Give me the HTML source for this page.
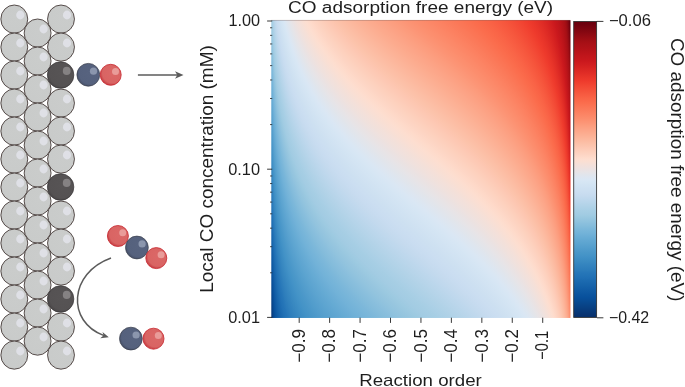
<!DOCTYPE html><html><head><meta charset="utf-8"><title>CO adsorption free energy</title>
<style>html,body{margin:0;padding:0;background:#fff}svg{display:block}text{font-family:"Liberation Sans",sans-serif;fill:#1e1e1e}</style></head><body>
<svg width="685" height="387" viewBox="0 0 685 387">
<defs>
<linearGradient id="cm" gradientUnits="userSpaceOnUse" x1="0" y1="0" x2="0" y2="901.82"><stop offset="0.0000" stop-color="#67000d"/><stop offset="0.0083" stop-color="#6d010e"/><stop offset="0.0167" stop-color="#75030f"/><stop offset="0.0250" stop-color="#7c0510"/><stop offset="0.0333" stop-color="#840711"/><stop offset="0.0417" stop-color="#8c0912"/><stop offset="0.0500" stop-color="#940b13"/><stop offset="0.0583" stop-color="#9c0d14"/><stop offset="0.0667" stop-color="#a30f15"/><stop offset="0.0750" stop-color="#a91016"/><stop offset="0.0833" stop-color="#ad1117"/><stop offset="0.0917" stop-color="#b21218"/><stop offset="0.1000" stop-color="#b71319"/><stop offset="0.1083" stop-color="#bc141a"/><stop offset="0.1167" stop-color="#c1161b"/><stop offset="0.1250" stop-color="#c5171c"/><stop offset="0.1333" stop-color="#ca181d"/><stop offset="0.1417" stop-color="#cf1c1f"/><stop offset="0.1500" stop-color="#d32020"/><stop offset="0.1583" stop-color="#d82422"/><stop offset="0.1667" stop-color="#dc2924"/><stop offset="0.1750" stop-color="#e12d26"/><stop offset="0.1833" stop-color="#e53228"/><stop offset="0.1917" stop-color="#ea362a"/><stop offset="0.2000" stop-color="#ee3a2c"/><stop offset="0.2083" stop-color="#f0402f"/><stop offset="0.2167" stop-color="#f24633"/><stop offset="0.2250" stop-color="#f34c37"/><stop offset="0.2333" stop-color="#f5523a"/><stop offset="0.2417" stop-color="#f6583e"/><stop offset="0.2500" stop-color="#f85d42"/><stop offset="0.2583" stop-color="#f96346"/><stop offset="0.2667" stop-color="#fa6849"/><stop offset="0.2750" stop-color="#fb6d4d"/><stop offset="0.2833" stop-color="#fb7252"/><stop offset="0.2917" stop-color="#fb7757"/><stop offset="0.3000" stop-color="#fb7c5c"/><stop offset="0.3083" stop-color="#fc8161"/><stop offset="0.3167" stop-color="#fc8666"/><stop offset="0.3250" stop-color="#fc8b6b"/><stop offset="0.3333" stop-color="#fc9070"/><stop offset="0.3417" stop-color="#fc9576"/><stop offset="0.3500" stop-color="#fc9b7c"/><stop offset="0.3583" stop-color="#fca082"/><stop offset="0.3667" stop-color="#fca588"/><stop offset="0.3750" stop-color="#fcaa8d"/><stop offset="0.3833" stop-color="#fcaf93"/><stop offset="0.3917" stop-color="#fcb499"/><stop offset="0.4000" stop-color="#fcb99f"/><stop offset="0.4083" stop-color="#fcbea5"/><stop offset="0.4167" stop-color="#fcc3ab"/><stop offset="0.4250" stop-color="#fdc7b2"/><stop offset="0.4333" stop-color="#fdccb8"/><stop offset="0.4417" stop-color="#fdd1be"/><stop offset="0.4500" stop-color="#fdd5c4"/><stop offset="0.4583" stop-color="#fedaca"/><stop offset="0.4667" stop-color="#fdded0"/><stop offset="0.4750" stop-color="#f9dfd4"/><stop offset="0.4833" stop-color="#f4e0d9"/><stop offset="0.4917" stop-color="#f0e1dd"/><stop offset="0.5000" stop-color="#ebe2e2"/><stop offset="0.5083" stop-color="#e7e4e7"/><stop offset="0.5167" stop-color="#e2e5eb"/><stop offset="0.5250" stop-color="#dee6f0"/><stop offset="0.5333" stop-color="#dae7f4"/><stop offset="0.5417" stop-color="#d6e6f4"/><stop offset="0.5500" stop-color="#d3e4f3"/><stop offset="0.5583" stop-color="#d0e2f2"/><stop offset="0.5667" stop-color="#cde0f1"/><stop offset="0.5750" stop-color="#cbdef1"/><stop offset="0.5833" stop-color="#c8dcf0"/><stop offset="0.5917" stop-color="#c4daee"/><stop offset="0.6000" stop-color="#bfd8ed"/><stop offset="0.6083" stop-color="#bad6eb"/><stop offset="0.6167" stop-color="#b5d4e9"/><stop offset="0.6250" stop-color="#b0d2e7"/><stop offset="0.6333" stop-color="#abd0e6"/><stop offset="0.6417" stop-color="#a6cee4"/><stop offset="0.6500" stop-color="#a3cce3"/><stop offset="0.6583" stop-color="#9dcae1"/><stop offset="0.6667" stop-color="#97c6df"/><stop offset="0.6750" stop-color="#91c3de"/><stop offset="0.6833" stop-color="#8abfdd"/><stop offset="0.6917" stop-color="#84bcdb"/><stop offset="0.7000" stop-color="#7db8da"/><stop offset="0.7083" stop-color="#77b5d9"/><stop offset="0.7167" stop-color="#72b2d8"/><stop offset="0.7250" stop-color="#6caed6"/><stop offset="0.7333" stop-color="#66abd4"/><stop offset="0.7417" stop-color="#61a7d2"/><stop offset="0.7500" stop-color="#5ca4d0"/><stop offset="0.7583" stop-color="#57a0ce"/><stop offset="0.7667" stop-color="#529dcc"/><stop offset="0.7750" stop-color="#4d99ca"/><stop offset="0.7833" stop-color="#4896c8"/><stop offset="0.7917" stop-color="#4493c7"/><stop offset="0.8000" stop-color="#3f8fc5"/><stop offset="0.8083" stop-color="#3b8bc2"/><stop offset="0.8167" stop-color="#3787c0"/><stop offset="0.8250" stop-color="#3383be"/><stop offset="0.8333" stop-color="#2f7fbc"/><stop offset="0.8417" stop-color="#2b7bba"/><stop offset="0.8500" stop-color="#2676b8"/><stop offset="0.8583" stop-color="#2373b6"/><stop offset="0.8667" stop-color="#206fb4"/><stop offset="0.8750" stop-color="#1c6bb0"/><stop offset="0.8833" stop-color="#1967ad"/><stop offset="0.8917" stop-color="#1663aa"/><stop offset="0.9000" stop-color="#135fa7"/><stop offset="0.9083" stop-color="#105ba4"/><stop offset="0.9167" stop-color="#0d57a1"/><stop offset="0.9250" stop-color="#0a539e"/><stop offset="0.9333" stop-color="#08509b"/><stop offset="0.9417" stop-color="#084c95"/><stop offset="0.9500" stop-color="#08488e"/><stop offset="0.9583" stop-color="#084488"/><stop offset="0.9667" stop-color="#084082"/><stop offset="0.9750" stop-color="#083b7c"/><stop offset="0.9833" stop-color="#083776"/><stop offset="0.9917" stop-color="#083370"/><stop offset="1.0000" stop-color="#08306b"/></linearGradient>
<linearGradient id="cb" x1="0" y1="0" x2="0" y2="1"><stop offset="0.0000" stop-color="#67000d"/><stop offset="0.0083" stop-color="#6d010e"/><stop offset="0.0167" stop-color="#75030f"/><stop offset="0.0250" stop-color="#7c0510"/><stop offset="0.0333" stop-color="#840711"/><stop offset="0.0417" stop-color="#8c0912"/><stop offset="0.0500" stop-color="#940b13"/><stop offset="0.0583" stop-color="#9c0d14"/><stop offset="0.0667" stop-color="#a30f15"/><stop offset="0.0750" stop-color="#a91016"/><stop offset="0.0833" stop-color="#ad1117"/><stop offset="0.0917" stop-color="#b21218"/><stop offset="0.1000" stop-color="#b71319"/><stop offset="0.1083" stop-color="#bc141a"/><stop offset="0.1167" stop-color="#c1161b"/><stop offset="0.1250" stop-color="#c5171c"/><stop offset="0.1333" stop-color="#ca181d"/><stop offset="0.1417" stop-color="#cf1c1f"/><stop offset="0.1500" stop-color="#d32020"/><stop offset="0.1583" stop-color="#d82422"/><stop offset="0.1667" stop-color="#dc2924"/><stop offset="0.1750" stop-color="#e12d26"/><stop offset="0.1833" stop-color="#e53228"/><stop offset="0.1917" stop-color="#ea362a"/><stop offset="0.2000" stop-color="#ee3a2c"/><stop offset="0.2083" stop-color="#f0402f"/><stop offset="0.2167" stop-color="#f24633"/><stop offset="0.2250" stop-color="#f34c37"/><stop offset="0.2333" stop-color="#f5523a"/><stop offset="0.2417" stop-color="#f6583e"/><stop offset="0.2500" stop-color="#f85d42"/><stop offset="0.2583" stop-color="#f96346"/><stop offset="0.2667" stop-color="#fa6849"/><stop offset="0.2750" stop-color="#fb6d4d"/><stop offset="0.2833" stop-color="#fb7252"/><stop offset="0.2917" stop-color="#fb7757"/><stop offset="0.3000" stop-color="#fb7c5c"/><stop offset="0.3083" stop-color="#fc8161"/><stop offset="0.3167" stop-color="#fc8666"/><stop offset="0.3250" stop-color="#fc8b6b"/><stop offset="0.3333" stop-color="#fc9070"/><stop offset="0.3417" stop-color="#fc9576"/><stop offset="0.3500" stop-color="#fc9b7c"/><stop offset="0.3583" stop-color="#fca082"/><stop offset="0.3667" stop-color="#fca588"/><stop offset="0.3750" stop-color="#fcaa8d"/><stop offset="0.3833" stop-color="#fcaf93"/><stop offset="0.3917" stop-color="#fcb499"/><stop offset="0.4000" stop-color="#fcb99f"/><stop offset="0.4083" stop-color="#fcbea5"/><stop offset="0.4167" stop-color="#fcc3ab"/><stop offset="0.4250" stop-color="#fdc7b2"/><stop offset="0.4333" stop-color="#fdccb8"/><stop offset="0.4417" stop-color="#fdd1be"/><stop offset="0.4500" stop-color="#fdd5c4"/><stop offset="0.4583" stop-color="#fedaca"/><stop offset="0.4667" stop-color="#fdded0"/><stop offset="0.4750" stop-color="#f9dfd4"/><stop offset="0.4833" stop-color="#f4e0d9"/><stop offset="0.4917" stop-color="#f0e1dd"/><stop offset="0.5000" stop-color="#ebe2e2"/><stop offset="0.5083" stop-color="#e7e4e7"/><stop offset="0.5167" stop-color="#e2e5eb"/><stop offset="0.5250" stop-color="#dee6f0"/><stop offset="0.5333" stop-color="#dae7f4"/><stop offset="0.5417" stop-color="#d6e6f4"/><stop offset="0.5500" stop-color="#d3e4f3"/><stop offset="0.5583" stop-color="#d0e2f2"/><stop offset="0.5667" stop-color="#cde0f1"/><stop offset="0.5750" stop-color="#cbdef1"/><stop offset="0.5833" stop-color="#c8dcf0"/><stop offset="0.5917" stop-color="#c4daee"/><stop offset="0.6000" stop-color="#bfd8ed"/><stop offset="0.6083" stop-color="#bad6eb"/><stop offset="0.6167" stop-color="#b5d4e9"/><stop offset="0.6250" stop-color="#b0d2e7"/><stop offset="0.6333" stop-color="#abd0e6"/><stop offset="0.6417" stop-color="#a6cee4"/><stop offset="0.6500" stop-color="#a3cce3"/><stop offset="0.6583" stop-color="#9dcae1"/><stop offset="0.6667" stop-color="#97c6df"/><stop offset="0.6750" stop-color="#91c3de"/><stop offset="0.6833" stop-color="#8abfdd"/><stop offset="0.6917" stop-color="#84bcdb"/><stop offset="0.7000" stop-color="#7db8da"/><stop offset="0.7083" stop-color="#77b5d9"/><stop offset="0.7167" stop-color="#72b2d8"/><stop offset="0.7250" stop-color="#6caed6"/><stop offset="0.7333" stop-color="#66abd4"/><stop offset="0.7417" stop-color="#61a7d2"/><stop offset="0.7500" stop-color="#5ca4d0"/><stop offset="0.7583" stop-color="#57a0ce"/><stop offset="0.7667" stop-color="#529dcc"/><stop offset="0.7750" stop-color="#4d99ca"/><stop offset="0.7833" stop-color="#4896c8"/><stop offset="0.7917" stop-color="#4493c7"/><stop offset="0.8000" stop-color="#3f8fc5"/><stop offset="0.8083" stop-color="#3b8bc2"/><stop offset="0.8167" stop-color="#3787c0"/><stop offset="0.8250" stop-color="#3383be"/><stop offset="0.8333" stop-color="#2f7fbc"/><stop offset="0.8417" stop-color="#2b7bba"/><stop offset="0.8500" stop-color="#2676b8"/><stop offset="0.8583" stop-color="#2373b6"/><stop offset="0.8667" stop-color="#206fb4"/><stop offset="0.8750" stop-color="#1c6bb0"/><stop offset="0.8833" stop-color="#1967ad"/><stop offset="0.8917" stop-color="#1663aa"/><stop offset="0.9000" stop-color="#135fa7"/><stop offset="0.9083" stop-color="#105ba4"/><stop offset="0.9167" stop-color="#0d57a1"/><stop offset="0.9250" stop-color="#0a539e"/><stop offset="0.9333" stop-color="#08509b"/><stop offset="0.9417" stop-color="#084c95"/><stop offset="0.9500" stop-color="#08488e"/><stop offset="0.9583" stop-color="#084488"/><stop offset="0.9667" stop-color="#084082"/><stop offset="0.9750" stop-color="#083b7c"/><stop offset="0.9833" stop-color="#083776"/><stop offset="0.9917" stop-color="#083370"/><stop offset="1.0000" stop-color="#08306b"/></linearGradient>
<radialGradient id="gG" cx="0.56" cy="0.44" r="0.58"><stop offset="0" stop-color="#cacccb"/><stop offset="0.85" stop-color="#c9cbca"/><stop offset="1" stop-color="#c4c6c5"/></radialGradient>
<radialGradient id="gD" cx="0.56" cy="0.44" r="0.58"><stop offset="0" stop-color="#575455"/><stop offset="0.8" stop-color="#555253"/><stop offset="1" stop-color="#4a4748"/></radialGradient>
<radialGradient id="gB" cx="0.58" cy="0.42" r="0.60"><stop offset="0" stop-color="#57637f"/><stop offset="0.8" stop-color="#55617d"/><stop offset="1" stop-color="#465069"/></radialGradient>
<radialGradient id="gR" cx="0.58" cy="0.42" r="0.60"><stop offset="0" stop-color="#db6867"/><stop offset="0.78" stop-color="#d96463"/><stop offset="1" stop-color="#c53d42"/></radialGradient>
<linearGradient id="h0" href="#cm" gradientTransform="translate(0 -569.05)"/>
<linearGradient id="h1" href="#cm" gradientTransform="translate(0 -550.55)"/>
<linearGradient id="h2" href="#cm" gradientTransform="translate(0 -536.12)"/>
<linearGradient id="h3" href="#cm" gradientTransform="translate(0 -524.26)"/>
<linearGradient id="h4" href="#cm" gradientTransform="translate(0 -514.19)"/>
<linearGradient id="h5" href="#cm" gradientTransform="translate(0 -505.43)"/>
<linearGradient id="h6" href="#cm" gradientTransform="translate(0 -497.67)"/>
<linearGradient id="h7" href="#cm" gradientTransform="translate(0 -490.70)"/>
<linearGradient id="h8" href="#cm" gradientTransform="translate(0 -484.37)"/>
<linearGradient id="h9" href="#cm" gradientTransform="translate(0 -478.57)"/>
<linearGradient id="h10" href="#cm" gradientTransform="translate(0 -473.22)"/>
<linearGradient id="h11" href="#cm" gradientTransform="translate(0 -468.24)"/>
<linearGradient id="h12" href="#cm" gradientTransform="translate(0 -463.59)"/>
<linearGradient id="h13" href="#cm" gradientTransform="translate(0 -459.23)"/>
<linearGradient id="h14" href="#cm" gradientTransform="translate(0 -455.11)"/>
<linearGradient id="h15" href="#cm" gradientTransform="translate(0 -451.22)"/>
<linearGradient id="h16" href="#cm" gradientTransform="translate(0 -447.52)"/>
<linearGradient id="h17" href="#cm" gradientTransform="translate(0 -444.00)"/>
<linearGradient id="h18" href="#cm" gradientTransform="translate(0 -440.64)"/>
<linearGradient id="h19" href="#cm" gradientTransform="translate(0 -437.43)"/>
<linearGradient id="h20" href="#cm" gradientTransform="translate(0 -434.34)"/>
<linearGradient id="h21" href="#cm" gradientTransform="translate(0 -431.38)"/>
<linearGradient id="h22" href="#cm" gradientTransform="translate(0 -428.53)"/>
<linearGradient id="h23" href="#cm" gradientTransform="translate(0 -425.78)"/>
<linearGradient id="h24" href="#cm" gradientTransform="translate(0 -423.12)"/>
<linearGradient id="h25" href="#cm" gradientTransform="translate(0 -420.55)"/>
<linearGradient id="h26" href="#cm" gradientTransform="translate(0 -418.06)"/>
<linearGradient id="h27" href="#cm" gradientTransform="translate(0 -415.65)"/>
<linearGradient id="h28" href="#cm" gradientTransform="translate(0 -413.31)"/>
<linearGradient id="h29" href="#cm" gradientTransform="translate(0 -411.03)"/>
<linearGradient id="h30" href="#cm" gradientTransform="translate(0 -408.81)"/>
<linearGradient id="h31" href="#cm" gradientTransform="translate(0 -406.66)"/>
<linearGradient id="h32" href="#cm" gradientTransform="translate(0 -404.56)"/>
<linearGradient id="h33" href="#cm" gradientTransform="translate(0 -402.51)"/>
<linearGradient id="h34" href="#cm" gradientTransform="translate(0 -400.50)"/>
<linearGradient id="h35" href="#cm" gradientTransform="translate(0 -398.55)"/>
<linearGradient id="h36" href="#cm" gradientTransform="translate(0 -396.64)"/>
<linearGradient id="h37" href="#cm" gradientTransform="translate(0 -394.77)"/>
<linearGradient id="h38" href="#cm" gradientTransform="translate(0 -392.93)"/>
<linearGradient id="h39" href="#cm" gradientTransform="translate(0 -391.14)"/>
<linearGradient id="h40" href="#cm" gradientTransform="translate(0 -389.38)"/>
<linearGradient id="h41" href="#cm" gradientTransform="translate(0 -387.66)"/>
<linearGradient id="h42" href="#cm" gradientTransform="translate(0 -385.96)"/>
<linearGradient id="h43" href="#cm" gradientTransform="translate(0 -384.30)"/>
<linearGradient id="h44" href="#cm" gradientTransform="translate(0 -382.67)"/>
<linearGradient id="h45" href="#cm" gradientTransform="translate(0 -381.07)"/>
<linearGradient id="h46" href="#cm" gradientTransform="translate(0 -379.49)"/>
<linearGradient id="h47" href="#cm" gradientTransform="translate(0 -377.94)"/>
<linearGradient id="h48" href="#cm" gradientTransform="translate(0 -376.41)"/>
<linearGradient id="h49" href="#cm" gradientTransform="translate(0 -374.91)"/>
<linearGradient id="h50" href="#cm" gradientTransform="translate(0 -373.43)"/>
<linearGradient id="h51" href="#cm" gradientTransform="translate(0 -371.97)"/>
<linearGradient id="h52" href="#cm" gradientTransform="translate(0 -370.53)"/>
<linearGradient id="h53" href="#cm" gradientTransform="translate(0 -369.11)"/>
<linearGradient id="h54" href="#cm" gradientTransform="translate(0 -367.71)"/>
<linearGradient id="h55" href="#cm" gradientTransform="translate(0 -366.33)"/>
<linearGradient id="h56" href="#cm" gradientTransform="translate(0 -364.97)"/>
<linearGradient id="h57" href="#cm" gradientTransform="translate(0 -363.63)"/>
<linearGradient id="h58" href="#cm" gradientTransform="translate(0 -362.30)"/>
<linearGradient id="h59" href="#cm" gradientTransform="translate(0 -360.99)"/>
<linearGradient id="h60" href="#cm" gradientTransform="translate(0 -359.70)"/>
<linearGradient id="h61" href="#cm" gradientTransform="translate(0 -358.42)"/>
<linearGradient id="h62" href="#cm" gradientTransform="translate(0 -357.15)"/>
<linearGradient id="h63" href="#cm" gradientTransform="translate(0 -355.90)"/>
<linearGradient id="h64" href="#cm" gradientTransform="translate(0 -354.66)"/>
<linearGradient id="h65" href="#cm" gradientTransform="translate(0 -353.44)"/>
<linearGradient id="h66" href="#cm" gradientTransform="translate(0 -352.22)"/>
<linearGradient id="h67" href="#cm" gradientTransform="translate(0 -351.02)"/>
<linearGradient id="h68" href="#cm" gradientTransform="translate(0 -349.84)"/>
<linearGradient id="h69" href="#cm" gradientTransform="translate(0 -348.66)"/>
<linearGradient id="h70" href="#cm" gradientTransform="translate(0 -347.50)"/>
<linearGradient id="h71" href="#cm" gradientTransform="translate(0 -346.34)"/>
<linearGradient id="h72" href="#cm" gradientTransform="translate(0 -345.20)"/>
<linearGradient id="h73" href="#cm" gradientTransform="translate(0 -344.07)"/>
<linearGradient id="h74" href="#cm" gradientTransform="translate(0 -342.94)"/>
<linearGradient id="h75" href="#cm" gradientTransform="translate(0 -341.83)"/>
<linearGradient id="h76" href="#cm" gradientTransform="translate(0 -340.72)"/>
<linearGradient id="h77" href="#cm" gradientTransform="translate(0 -339.63)"/>
<linearGradient id="h78" href="#cm" gradientTransform="translate(0 -338.54)"/>
<linearGradient id="h79" href="#cm" gradientTransform="translate(0 -337.46)"/>
<linearGradient id="h80" href="#cm" gradientTransform="translate(0 -336.39)"/>
<linearGradient id="h81" href="#cm" gradientTransform="translate(0 -335.33)"/>
<linearGradient id="h82" href="#cm" gradientTransform="translate(0 -334.28)"/>
<linearGradient id="h83" href="#cm" gradientTransform="translate(0 -333.23)"/>
<linearGradient id="h84" href="#cm" gradientTransform="translate(0 -332.19)"/>
<linearGradient id="h85" href="#cm" gradientTransform="translate(0 -331.16)"/>
<linearGradient id="h86" href="#cm" gradientTransform="translate(0 -330.14)"/>
<linearGradient id="h87" href="#cm" gradientTransform="translate(0 -329.12)"/>
<linearGradient id="h88" href="#cm" gradientTransform="translate(0 -328.11)"/>
<linearGradient id="h89" href="#cm" gradientTransform="translate(0 -327.10)"/>
<linearGradient id="h90" href="#cm" gradientTransform="translate(0 -326.10)"/>
<linearGradient id="h91" href="#cm" gradientTransform="translate(0 -325.11)"/>
<linearGradient id="h92" href="#cm" gradientTransform="translate(0 -324.12)"/>
<linearGradient id="h93" href="#cm" gradientTransform="translate(0 -323.14)"/>
<linearGradient id="h94" href="#cm" gradientTransform="translate(0 -322.16)"/>
<linearGradient id="h95" href="#cm" gradientTransform="translate(0 -321.19)"/>
<linearGradient id="h96" href="#cm" gradientTransform="translate(0 -320.22)"/>
<linearGradient id="h97" href="#cm" gradientTransform="translate(0 -319.26)"/>
<linearGradient id="h98" href="#cm" gradientTransform="translate(0 -318.31)"/>
<linearGradient id="h99" href="#cm" gradientTransform="translate(0 -317.36)"/>
<linearGradient id="h100" href="#cm" gradientTransform="translate(0 -316.41)"/>
<linearGradient id="h101" href="#cm" gradientTransform="translate(0 -315.47)"/>
<linearGradient id="h102" href="#cm" gradientTransform="translate(0 -314.53)"/>
<linearGradient id="h103" href="#cm" gradientTransform="translate(0 -313.60)"/>
<linearGradient id="h104" href="#cm" gradientTransform="translate(0 -312.67)"/>
<linearGradient id="h105" href="#cm" gradientTransform="translate(0 -311.74)"/>
<linearGradient id="h106" href="#cm" gradientTransform="translate(0 -310.82)"/>
<linearGradient id="h107" href="#cm" gradientTransform="translate(0 -309.90)"/>
<linearGradient id="h108" href="#cm" gradientTransform="translate(0 -308.99)"/>
<linearGradient id="h109" href="#cm" gradientTransform="translate(0 -308.08)"/>
<linearGradient id="h110" href="#cm" gradientTransform="translate(0 -307.17)"/>
<linearGradient id="h111" href="#cm" gradientTransform="translate(0 -306.27)"/>
<linearGradient id="h112" href="#cm" gradientTransform="translate(0 -305.37)"/>
<linearGradient id="h113" href="#cm" gradientTransform="translate(0 -304.47)"/>
<linearGradient id="h114" href="#cm" gradientTransform="translate(0 -303.57)"/>
<linearGradient id="h115" href="#cm" gradientTransform="translate(0 -302.68)"/>
<linearGradient id="h116" href="#cm" gradientTransform="translate(0 -301.79)"/>
<linearGradient id="h117" href="#cm" gradientTransform="translate(0 -300.90)"/>
<linearGradient id="h118" href="#cm" gradientTransform="translate(0 -300.02)"/>
<linearGradient id="h119" href="#cm" gradientTransform="translate(0 -299.14)"/>
<linearGradient id="h120" href="#cm" gradientTransform="translate(0 -298.26)"/>
<linearGradient id="h121" href="#cm" gradientTransform="translate(0 -297.38)"/>
<linearGradient id="h122" href="#cm" gradientTransform="translate(0 -296.51)"/>
<linearGradient id="h123" href="#cm" gradientTransform="translate(0 -295.64)"/>
<linearGradient id="h124" href="#cm" gradientTransform="translate(0 -294.77)"/>
<linearGradient id="h125" href="#cm" gradientTransform="translate(0 -293.90)"/>
<linearGradient id="h126" href="#cm" gradientTransform="translate(0 -293.03)"/>
<linearGradient id="h127" href="#cm" gradientTransform="translate(0 -292.16)"/>
<linearGradient id="h128" href="#cm" gradientTransform="translate(0 -291.30)"/>
<linearGradient id="h129" href="#cm" gradientTransform="translate(0 -290.44)"/>
<linearGradient id="h130" href="#cm" gradientTransform="translate(0 -289.58)"/>
<linearGradient id="h131" href="#cm" gradientTransform="translate(0 -288.72)"/>
<linearGradient id="h132" href="#cm" gradientTransform="translate(0 -287.86)"/>
<linearGradient id="h133" href="#cm" gradientTransform="translate(0 -287.01)"/>
<linearGradient id="h134" href="#cm" gradientTransform="translate(0 -286.15)"/>
<linearGradient id="h135" href="#cm" gradientTransform="translate(0 -285.30)"/>
<linearGradient id="h136" href="#cm" gradientTransform="translate(0 -284.45)"/>
<linearGradient id="h137" href="#cm" gradientTransform="translate(0 -283.59)"/>
<linearGradient id="h138" href="#cm" gradientTransform="translate(0 -282.74)"/>
<linearGradient id="h139" href="#cm" gradientTransform="translate(0 -281.89)"/>
<linearGradient id="h140" href="#cm" gradientTransform="translate(0 -281.04)"/>
<linearGradient id="h141" href="#cm" gradientTransform="translate(0 -280.20)"/>
<linearGradient id="h142" href="#cm" gradientTransform="translate(0 -279.35)"/>
<linearGradient id="h143" href="#cm" gradientTransform="translate(0 -278.50)"/>
<linearGradient id="h144" href="#cm" gradientTransform="translate(0 -277.65)"/>
<linearGradient id="h145" href="#cm" gradientTransform="translate(0 -276.81)"/>
<linearGradient id="h146" href="#cm" gradientTransform="translate(0 -275.96)"/>
<linearGradient id="h147" href="#cm" gradientTransform="translate(0 -275.12)"/>
<linearGradient id="h148" href="#cm" gradientTransform="translate(0 -274.27)"/>
<linearGradient id="h149" href="#cm" gradientTransform="translate(0 -273.42)"/>
<linearGradient id="h150" href="#cm" gradientTransform="translate(0 -272.58)"/>
<linearGradient id="h151" href="#cm" gradientTransform="translate(0 -271.73)"/>
<linearGradient id="h152" href="#cm" gradientTransform="translate(0 -270.89)"/>
<linearGradient id="h153" href="#cm" gradientTransform="translate(0 -270.04)"/>
<linearGradient id="h154" href="#cm" gradientTransform="translate(0 -269.19)"/>
<linearGradient id="h155" href="#cm" gradientTransform="translate(0 -268.35)"/>
<linearGradient id="h156" href="#cm" gradientTransform="translate(0 -267.50)"/>
<linearGradient id="h157" href="#cm" gradientTransform="translate(0 -266.65)"/>
<linearGradient id="h158" href="#cm" gradientTransform="translate(0 -265.80)"/>
<linearGradient id="h159" href="#cm" gradientTransform="translate(0 -264.95)"/>
<linearGradient id="h160" href="#cm" gradientTransform="translate(0 -264.10)"/>
<linearGradient id="h161" href="#cm" gradientTransform="translate(0 -263.25)"/>
<linearGradient id="h162" href="#cm" gradientTransform="translate(0 -262.40)"/>
<linearGradient id="h163" href="#cm" gradientTransform="translate(0 -261.55)"/>
<linearGradient id="h164" href="#cm" gradientTransform="translate(0 -260.70)"/>
<linearGradient id="h165" href="#cm" gradientTransform="translate(0 -259.84)"/>
<linearGradient id="h166" href="#cm" gradientTransform="translate(0 -258.99)"/>
<linearGradient id="h167" href="#cm" gradientTransform="translate(0 -258.13)"/>
<linearGradient id="h168" href="#cm" gradientTransform="translate(0 -257.27)"/>
<linearGradient id="h169" href="#cm" gradientTransform="translate(0 -256.41)"/>
<linearGradient id="h170" href="#cm" gradientTransform="translate(0 -255.55)"/>
<linearGradient id="h171" href="#cm" gradientTransform="translate(0 -254.69)"/>
<linearGradient id="h172" href="#cm" gradientTransform="translate(0 -253.82)"/>
<linearGradient id="h173" href="#cm" gradientTransform="translate(0 -252.96)"/>
<linearGradient id="h174" href="#cm" gradientTransform="translate(0 -252.09)"/>
<linearGradient id="h175" href="#cm" gradientTransform="translate(0 -251.22)"/>
<linearGradient id="h176" href="#cm" gradientTransform="translate(0 -250.35)"/>
<linearGradient id="h177" href="#cm" gradientTransform="translate(0 -249.47)"/>
<linearGradient id="h178" href="#cm" gradientTransform="translate(0 -248.60)"/>
<linearGradient id="h179" href="#cm" gradientTransform="translate(0 -247.72)"/>
<linearGradient id="h180" href="#cm" gradientTransform="translate(0 -246.84)"/>
<linearGradient id="h181" href="#cm" gradientTransform="translate(0 -245.95)"/>
<linearGradient id="h182" href="#cm" gradientTransform="translate(0 -245.07)"/>
<linearGradient id="h183" href="#cm" gradientTransform="translate(0 -244.18)"/>
<linearGradient id="h184" href="#cm" gradientTransform="translate(0 -243.29)"/>
<linearGradient id="h185" href="#cm" gradientTransform="translate(0 -242.39)"/>
<linearGradient id="h186" href="#cm" gradientTransform="translate(0 -241.50)"/>
<linearGradient id="h187" href="#cm" gradientTransform="translate(0 -240.60)"/>
<linearGradient id="h188" href="#cm" gradientTransform="translate(0 -239.69)"/>
<linearGradient id="h189" href="#cm" gradientTransform="translate(0 -238.79)"/>
<linearGradient id="h190" href="#cm" gradientTransform="translate(0 -237.88)"/>
<linearGradient id="h191" href="#cm" gradientTransform="translate(0 -236.97)"/>
<linearGradient id="h192" href="#cm" gradientTransform="translate(0 -236.05)"/>
<linearGradient id="h193" href="#cm" gradientTransform="translate(0 -235.13)"/>
<linearGradient id="h194" href="#cm" gradientTransform="translate(0 -234.20)"/>
<linearGradient id="h195" href="#cm" gradientTransform="translate(0 -233.28)"/>
<linearGradient id="h196" href="#cm" gradientTransform="translate(0 -232.34)"/>
<linearGradient id="h197" href="#cm" gradientTransform="translate(0 -231.41)"/>
<linearGradient id="h198" href="#cm" gradientTransform="translate(0 -230.47)"/>
<linearGradient id="h199" href="#cm" gradientTransform="translate(0 -229.52)"/>
<linearGradient id="h200" href="#cm" gradientTransform="translate(0 -228.57)"/>
<linearGradient id="h201" href="#cm" gradientTransform="translate(0 -227.62)"/>
<linearGradient id="h202" href="#cm" gradientTransform="translate(0 -226.66)"/>
<linearGradient id="h203" href="#cm" gradientTransform="translate(0 -225.69)"/>
<linearGradient id="h204" href="#cm" gradientTransform="translate(0 -224.72)"/>
<linearGradient id="h205" href="#cm" gradientTransform="translate(0 -223.75)"/>
<linearGradient id="h206" href="#cm" gradientTransform="translate(0 -222.77)"/>
<linearGradient id="h207" href="#cm" gradientTransform="translate(0 -221.78)"/>
<linearGradient id="h208" href="#cm" gradientTransform="translate(0 -220.79)"/>
<linearGradient id="h209" href="#cm" gradientTransform="translate(0 -219.79)"/>
<linearGradient id="h210" href="#cm" gradientTransform="translate(0 -218.79)"/>
<linearGradient id="h211" href="#cm" gradientTransform="translate(0 -217.78)"/>
<linearGradient id="h212" href="#cm" gradientTransform="translate(0 -216.76)"/>
<linearGradient id="h213" href="#cm" gradientTransform="translate(0 -215.74)"/>
<linearGradient id="h214" href="#cm" gradientTransform="translate(0 -214.71)"/>
<linearGradient id="h215" href="#cm" gradientTransform="translate(0 -213.67)"/>
<linearGradient id="h216" href="#cm" gradientTransform="translate(0 -212.63)"/>
<linearGradient id="h217" href="#cm" gradientTransform="translate(0 -211.58)"/>
<linearGradient id="h218" href="#cm" gradientTransform="translate(0 -210.52)"/>
<linearGradient id="h219" href="#cm" gradientTransform="translate(0 -209.45)"/>
<linearGradient id="h220" href="#cm" gradientTransform="translate(0 -208.38)"/>
<linearGradient id="h221" href="#cm" gradientTransform="translate(0 -207.29)"/>
<linearGradient id="h222" href="#cm" gradientTransform="translate(0 -206.20)"/>
<linearGradient id="h223" href="#cm" gradientTransform="translate(0 -205.10)"/>
<linearGradient id="h224" href="#cm" gradientTransform="translate(0 -203.99)"/>
<linearGradient id="h225" href="#cm" gradientTransform="translate(0 -202.87)"/>
<linearGradient id="h226" href="#cm" gradientTransform="translate(0 -201.74)"/>
<linearGradient id="h227" href="#cm" gradientTransform="translate(0 -200.59)"/>
<linearGradient id="h228" href="#cm" gradientTransform="translate(0 -199.44)"/>
<linearGradient id="h229" href="#cm" gradientTransform="translate(0 -198.28)"/>
<linearGradient id="h230" href="#cm" gradientTransform="translate(0 -197.11)"/>
<linearGradient id="h231" href="#cm" gradientTransform="translate(0 -195.93)"/>
<linearGradient id="h232" href="#cm" gradientTransform="translate(0 -194.73)"/>
<linearGradient id="h233" href="#cm" gradientTransform="translate(0 -193.52)"/>
<linearGradient id="h234" href="#cm" gradientTransform="translate(0 -192.30)"/>
<linearGradient id="h235" href="#cm" gradientTransform="translate(0 -191.07)"/>
<linearGradient id="h236" href="#cm" gradientTransform="translate(0 -189.82)"/>
<linearGradient id="h237" href="#cm" gradientTransform="translate(0 -188.56)"/>
<linearGradient id="h238" href="#cm" gradientTransform="translate(0 -187.28)"/>
<linearGradient id="h239" href="#cm" gradientTransform="translate(0 -185.99)"/>
<linearGradient id="h240" href="#cm" gradientTransform="translate(0 -184.69)"/>
<linearGradient id="h241" href="#cm" gradientTransform="translate(0 -183.36)"/>
<linearGradient id="h242" href="#cm" gradientTransform="translate(0 -182.02)"/>
<linearGradient id="h243" href="#cm" gradientTransform="translate(0 -180.67)"/>
<linearGradient id="h244" href="#cm" gradientTransform="translate(0 -179.30)"/>
<linearGradient id="h245" href="#cm" gradientTransform="translate(0 -177.90)"/>
<linearGradient id="h246" href="#cm" gradientTransform="translate(0 -176.49)"/>
<linearGradient id="h247" href="#cm" gradientTransform="translate(0 -175.06)"/>
<linearGradient id="h248" href="#cm" gradientTransform="translate(0 -173.61)"/>
<linearGradient id="h249" href="#cm" gradientTransform="translate(0 -172.13)"/>
<linearGradient id="h250" href="#cm" gradientTransform="translate(0 -170.64)"/>
<linearGradient id="h251" href="#cm" gradientTransform="translate(0 -169.12)"/>
<linearGradient id="h252" href="#cm" gradientTransform="translate(0 -167.57)"/>
<linearGradient id="h253" href="#cm" gradientTransform="translate(0 -166.00)"/>
<linearGradient id="h254" href="#cm" gradientTransform="translate(0 -164.41)"/>
<linearGradient id="h255" href="#cm" gradientTransform="translate(0 -162.78)"/>
<linearGradient id="h256" href="#cm" gradientTransform="translate(0 -161.13)"/>
<linearGradient id="h257" href="#cm" gradientTransform="translate(0 -159.45)"/>
<linearGradient id="h258" href="#cm" gradientTransform="translate(0 -157.73)"/>
<linearGradient id="h259" href="#cm" gradientTransform="translate(0 -155.98)"/>
<linearGradient id="h260" href="#cm" gradientTransform="translate(0 -154.20)"/>
<linearGradient id="h261" href="#cm" gradientTransform="translate(0 -152.38)"/>
<linearGradient id="h262" href="#cm" gradientTransform="translate(0 -150.52)"/>
<linearGradient id="h263" href="#cm" gradientTransform="translate(0 -148.62)"/>
<linearGradient id="h264" href="#cm" gradientTransform="translate(0 -146.68)"/>
<linearGradient id="h265" href="#cm" gradientTransform="translate(0 -144.69)"/>
<linearGradient id="h266" href="#cm" gradientTransform="translate(0 -142.66)"/>
<linearGradient id="h267" href="#cm" gradientTransform="translate(0 -140.57)"/>
<linearGradient id="h268" href="#cm" gradientTransform="translate(0 -138.43)"/>
<linearGradient id="h269" href="#cm" gradientTransform="translate(0 -136.23)"/>
<linearGradient id="h270" href="#cm" gradientTransform="translate(0 -133.98)"/>
<linearGradient id="h271" href="#cm" gradientTransform="translate(0 -131.65)"/>
<linearGradient id="h272" href="#cm" gradientTransform="translate(0 -129.26)"/>
<linearGradient id="h273" href="#cm" gradientTransform="translate(0 -126.80)"/>
<linearGradient id="h274" href="#cm" gradientTransform="translate(0 -124.25)"/>
<linearGradient id="h275" href="#cm" gradientTransform="translate(0 -121.62)"/>
<linearGradient id="h276" href="#cm" gradientTransform="translate(0 -118.90)"/>
<linearGradient id="h277" href="#cm" gradientTransform="translate(0 -116.08)"/>
<linearGradient id="h278" href="#cm" gradientTransform="translate(0 -113.15)"/>
<linearGradient id="h279" href="#cm" gradientTransform="translate(0 -110.10)"/>
<linearGradient id="h280" href="#cm" gradientTransform="translate(0 -106.93)"/>
<linearGradient id="h281" href="#cm" gradientTransform="translate(0 -103.61)"/>
<linearGradient id="h282" href="#cm" gradientTransform="translate(0 -100.14)"/>
<linearGradient id="h283" href="#cm" gradientTransform="translate(0 -96.50)"/>
<linearGradient id="h284" href="#cm" gradientTransform="translate(0 -92.67)"/>
<linearGradient id="h285" href="#cm" gradientTransform="translate(0 -88.62)"/>
<linearGradient id="h286" href="#cm" gradientTransform="translate(0 -84.34)"/>
<linearGradient id="h287" href="#cm" gradientTransform="translate(0 -79.78)"/>
<linearGradient id="h288" href="#cm" gradientTransform="translate(0 -74.90)"/>
<linearGradient id="h289" href="#cm" gradientTransform="translate(0 -69.67)"/>
<linearGradient id="h290" href="#cm" gradientTransform="translate(0 -64.01)"/>
<linearGradient id="h291" href="#cm" gradientTransform="translate(0 -57.85)"/>
<linearGradient id="h292" href="#cm" gradientTransform="translate(0 -51.09)"/>
<linearGradient id="h293" href="#cm" gradientTransform="translate(0 -43.59)"/>
<linearGradient id="h294" href="#cm" gradientTransform="translate(0 -35.15)"/>
<linearGradient id="h295" href="#cm" gradientTransform="translate(0 -25.52)"/>
<linearGradient id="h296" href="#cm" gradientTransform="translate(0 -14.26)"/>
<linearGradient id="h297" href="#cm" gradientTransform="translate(0 -0.71)"/>
<linearGradient id="h298" href="#cm" gradientTransform="translate(0 16.34)"/>
</defs>
<g id="slab">
<ellipse cx="14.3" cy="19.1" rx="13.45" ry="14.10" fill="url(#gG)" stroke="#332724" stroke-width="0.80"/><ellipse cx="20.3" cy="15.0" rx="4.10" ry="4.40" fill="#dfe0e6"/>
<ellipse cx="14.3" cy="47.1" rx="13.45" ry="14.10" fill="url(#gG)" stroke="#332724" stroke-width="0.80"/><ellipse cx="20.3" cy="43.0" rx="4.10" ry="4.40" fill="#dfe0e6"/>
<ellipse cx="14.3" cy="75.1" rx="13.45" ry="14.10" fill="url(#gG)" stroke="#332724" stroke-width="0.80"/><ellipse cx="20.3" cy="71.0" rx="4.10" ry="4.40" fill="#dfe0e6"/>
<ellipse cx="14.3" cy="103.1" rx="13.45" ry="14.10" fill="url(#gG)" stroke="#332724" stroke-width="0.80"/><ellipse cx="20.3" cy="99.0" rx="4.10" ry="4.40" fill="#dfe0e6"/>
<ellipse cx="14.3" cy="131.1" rx="13.45" ry="14.10" fill="url(#gG)" stroke="#332724" stroke-width="0.80"/><ellipse cx="20.3" cy="127.0" rx="4.10" ry="4.40" fill="#dfe0e6"/>
<ellipse cx="14.3" cy="159.1" rx="13.45" ry="14.10" fill="url(#gG)" stroke="#332724" stroke-width="0.80"/><ellipse cx="20.3" cy="155.0" rx="4.10" ry="4.40" fill="#dfe0e6"/>
<ellipse cx="14.3" cy="187.1" rx="13.45" ry="14.10" fill="url(#gG)" stroke="#332724" stroke-width="0.80"/><ellipse cx="20.3" cy="183.0" rx="4.10" ry="4.40" fill="#dfe0e6"/>
<ellipse cx="14.3" cy="215.1" rx="13.45" ry="14.10" fill="url(#gG)" stroke="#332724" stroke-width="0.80"/><ellipse cx="20.3" cy="211.0" rx="4.10" ry="4.40" fill="#dfe0e6"/>
<ellipse cx="14.3" cy="243.1" rx="13.45" ry="14.10" fill="url(#gG)" stroke="#332724" stroke-width="0.80"/><ellipse cx="20.3" cy="239.0" rx="4.10" ry="4.40" fill="#dfe0e6"/>
<ellipse cx="14.3" cy="271.1" rx="13.45" ry="14.10" fill="url(#gG)" stroke="#332724" stroke-width="0.80"/><ellipse cx="20.3" cy="267.0" rx="4.10" ry="4.40" fill="#dfe0e6"/>
<ellipse cx="14.3" cy="299.1" rx="13.45" ry="14.10" fill="url(#gG)" stroke="#332724" stroke-width="0.80"/><ellipse cx="20.3" cy="295.0" rx="4.10" ry="4.40" fill="#dfe0e6"/>
<ellipse cx="14.3" cy="327.1" rx="13.45" ry="14.10" fill="url(#gG)" stroke="#332724" stroke-width="0.80"/><ellipse cx="20.3" cy="323.0" rx="4.10" ry="4.40" fill="#dfe0e6"/>
<ellipse cx="14.3" cy="355.1" rx="13.45" ry="14.10" fill="url(#gG)" stroke="#332724" stroke-width="0.80"/><ellipse cx="20.3" cy="351.0" rx="4.10" ry="4.40" fill="#dfe0e6"/>
<ellipse cx="61.0" cy="19.1" rx="13.45" ry="14.10" fill="url(#gG)" stroke="#332724" stroke-width="0.80"/><ellipse cx="67.0" cy="15.0" rx="4.10" ry="4.40" fill="#dfe0e6"/>
<ellipse cx="61.0" cy="47.1" rx="13.45" ry="14.10" fill="url(#gG)" stroke="#332724" stroke-width="0.80"/><ellipse cx="67.0" cy="43.0" rx="4.10" ry="4.40" fill="#dfe0e6"/>
<ellipse cx="61.0" cy="103.1" rx="13.45" ry="14.10" fill="url(#gG)" stroke="#332724" stroke-width="0.80"/><ellipse cx="67.0" cy="99.0" rx="4.10" ry="4.40" fill="#dfe0e6"/>
<ellipse cx="61.0" cy="131.1" rx="13.45" ry="14.10" fill="url(#gG)" stroke="#332724" stroke-width="0.80"/><ellipse cx="67.0" cy="127.0" rx="4.10" ry="4.40" fill="#dfe0e6"/>
<ellipse cx="61.0" cy="159.1" rx="13.45" ry="14.10" fill="url(#gG)" stroke="#332724" stroke-width="0.80"/><ellipse cx="67.0" cy="155.0" rx="4.10" ry="4.40" fill="#dfe0e6"/>
<ellipse cx="61.0" cy="215.1" rx="13.45" ry="14.10" fill="url(#gG)" stroke="#332724" stroke-width="0.80"/><ellipse cx="67.0" cy="211.0" rx="4.10" ry="4.40" fill="#dfe0e6"/>
<ellipse cx="61.0" cy="243.1" rx="13.45" ry="14.10" fill="url(#gG)" stroke="#332724" stroke-width="0.80"/><ellipse cx="67.0" cy="239.0" rx="4.10" ry="4.40" fill="#dfe0e6"/>
<ellipse cx="61.0" cy="271.1" rx="13.45" ry="14.10" fill="url(#gG)" stroke="#332724" stroke-width="0.80"/><ellipse cx="67.0" cy="267.0" rx="4.10" ry="4.40" fill="#dfe0e6"/>
<ellipse cx="61.0" cy="327.1" rx="13.45" ry="14.10" fill="url(#gG)" stroke="#332724" stroke-width="0.80"/><ellipse cx="67.0" cy="323.0" rx="4.10" ry="4.40" fill="#dfe0e6"/>
<ellipse cx="61.0" cy="355.1" rx="13.45" ry="14.10" fill="url(#gG)" stroke="#332724" stroke-width="0.80"/><ellipse cx="67.0" cy="351.0" rx="4.10" ry="4.40" fill="#dfe0e6"/>
<ellipse cx="37.6" cy="33.1" rx="13.45" ry="14.10" fill="url(#gG)" stroke="#332724" stroke-width="0.80"/><ellipse cx="43.6" cy="29.0" rx="4.10" ry="4.40" fill="#dfe0e6"/>
<ellipse cx="37.6" cy="61.1" rx="13.45" ry="14.10" fill="url(#gG)" stroke="#332724" stroke-width="0.80"/><ellipse cx="43.6" cy="57.0" rx="4.10" ry="4.40" fill="#dfe0e6"/>
<ellipse cx="37.6" cy="89.1" rx="13.45" ry="14.10" fill="url(#gG)" stroke="#332724" stroke-width="0.80"/><ellipse cx="43.6" cy="85.0" rx="4.10" ry="4.40" fill="#dfe0e6"/>
<ellipse cx="37.6" cy="117.1" rx="13.45" ry="14.10" fill="url(#gG)" stroke="#332724" stroke-width="0.80"/><ellipse cx="43.6" cy="113.0" rx="4.10" ry="4.40" fill="#dfe0e6"/>
<ellipse cx="37.6" cy="145.1" rx="13.45" ry="14.10" fill="url(#gG)" stroke="#332724" stroke-width="0.80"/><ellipse cx="43.6" cy="141.0" rx="4.10" ry="4.40" fill="#dfe0e6"/>
<ellipse cx="37.6" cy="173.1" rx="13.45" ry="14.10" fill="url(#gG)" stroke="#332724" stroke-width="0.80"/><ellipse cx="43.6" cy="169.0" rx="4.10" ry="4.40" fill="#dfe0e6"/>
<ellipse cx="37.6" cy="201.1" rx="13.45" ry="14.10" fill="url(#gG)" stroke="#332724" stroke-width="0.80"/><ellipse cx="43.6" cy="197.0" rx="4.10" ry="4.40" fill="#dfe0e6"/>
<ellipse cx="37.6" cy="229.1" rx="13.45" ry="14.10" fill="url(#gG)" stroke="#332724" stroke-width="0.80"/><ellipse cx="43.6" cy="225.0" rx="4.10" ry="4.40" fill="#dfe0e6"/>
<ellipse cx="37.6" cy="257.1" rx="13.45" ry="14.10" fill="url(#gG)" stroke="#332724" stroke-width="0.80"/><ellipse cx="43.6" cy="253.0" rx="4.10" ry="4.40" fill="#dfe0e6"/>
<ellipse cx="37.6" cy="285.1" rx="13.45" ry="14.10" fill="url(#gG)" stroke="#332724" stroke-width="0.80"/><ellipse cx="43.6" cy="281.0" rx="4.10" ry="4.40" fill="#dfe0e6"/>
<ellipse cx="37.6" cy="313.1" rx="13.45" ry="14.10" fill="url(#gG)" stroke="#332724" stroke-width="0.80"/><ellipse cx="43.6" cy="309.0" rx="4.10" ry="4.40" fill="#dfe0e6"/>
<ellipse cx="37.6" cy="341.1" rx="13.45" ry="14.10" fill="url(#gG)" stroke="#332724" stroke-width="0.80"/><ellipse cx="43.6" cy="337.0" rx="4.10" ry="4.40" fill="#dfe0e6"/>
<ellipse cx="60.6" cy="75.0" rx="13.25" ry="13.30" fill="url(#gD)" stroke="#3a3738" stroke-width="0.70"/><ellipse cx="66.7" cy="70.9" rx="3.90" ry="4.10" fill="#858283"/>
<ellipse cx="60.6" cy="187.0" rx="13.25" ry="13.30" fill="url(#gD)" stroke="#3a3738" stroke-width="0.70"/><ellipse cx="66.7" cy="182.9" rx="3.90" ry="4.10" fill="#858283"/>
<ellipse cx="60.6" cy="299.0" rx="13.25" ry="13.30" fill="url(#gD)" stroke="#3a3738" stroke-width="0.70"/><ellipse cx="66.7" cy="294.9" rx="3.90" ry="4.10" fill="#858283"/>
</g>
<g id="mol">
<ellipse cx="88.3" cy="74.8" rx="11.40" ry="11.40" fill="url(#gB)" stroke="#3b3f4c" stroke-width="0.70"/><ellipse cx="93.5" cy="71.2" rx="3.60" ry="3.60" fill="#8b96ad"/>
<ellipse cx="110.7" cy="74.8" rx="10.50" ry="10.50" fill="url(#gR)" stroke="#c92d34" stroke-width="0.85"/><ellipse cx="115.5" cy="71.5" rx="3.50" ry="3.50" fill="#e99c99"/>
<ellipse cx="117.9" cy="236.0" rx="10.50" ry="10.50" fill="url(#gR)" stroke="#c92d34" stroke-width="0.85"/><ellipse cx="122.7" cy="232.7" rx="3.50" ry="3.50" fill="#e99c99"/>
<ellipse cx="136.9" cy="247.5" rx="11.40" ry="11.40" fill="url(#gB)" stroke="#3b3f4c" stroke-width="0.70"/><ellipse cx="142.1" cy="243.9" rx="3.60" ry="3.60" fill="#8b96ad"/>
<ellipse cx="156.3" cy="258.1" rx="10.50" ry="10.50" fill="url(#gR)" stroke="#c92d34" stroke-width="0.85"/><ellipse cx="161.1" cy="254.8" rx="3.50" ry="3.50" fill="#e99c99"/>
<ellipse cx="130.9" cy="338.6" rx="11.40" ry="11.40" fill="url(#gB)" stroke="#3b3f4c" stroke-width="0.70"/><ellipse cx="136.1" cy="335.0" rx="3.60" ry="3.60" fill="#8b96ad"/>
<ellipse cx="153.5" cy="338.7" rx="10.50" ry="10.50" fill="url(#gR)" stroke="#c92d34" stroke-width="0.85"/><ellipse cx="158.3" cy="335.4" rx="3.50" ry="3.50" fill="#e99c99"/>
</g>
<g id="arrows" fill="none" stroke="#5b5b5b" stroke-width="1.5">
<line x1="137.9" y1="75.05" x2="178" y2="75.05"/>
<path d="M111 258 C 69 273.1, 66.2 321.7, 104 335.6"/>
</g>
<path d="M183.5 75.05 L175 71.3 L177.3 75.05 L175 78.8 Z" fill="#5b5b5b"/>
<path d="M108.8 337.3 L100.2 338.2 L103.6 335.4 L102.5 331.9 Z" fill="#5b5b5b"/>
<g id="heat">
<rect x="271.30" y="20.30" width="2.00" height="297.60" fill="url(#h0)"/>
<rect x="272.30" y="20.30" width="2.00" height="297.60" fill="url(#h1)"/>
<rect x="273.30" y="20.30" width="2.00" height="297.60" fill="url(#h2)"/>
<rect x="274.30" y="20.30" width="2.00" height="297.60" fill="url(#h3)"/>
<rect x="275.30" y="20.30" width="2.00" height="297.60" fill="url(#h4)"/>
<rect x="276.30" y="20.30" width="2.00" height="297.60" fill="url(#h5)"/>
<rect x="277.30" y="20.30" width="2.00" height="297.60" fill="url(#h6)"/>
<rect x="278.30" y="20.30" width="2.00" height="297.60" fill="url(#h7)"/>
<rect x="279.30" y="20.30" width="2.00" height="297.60" fill="url(#h8)"/>
<rect x="280.30" y="20.30" width="2.00" height="297.60" fill="url(#h9)"/>
<rect x="281.30" y="20.30" width="2.00" height="297.60" fill="url(#h10)"/>
<rect x="282.30" y="20.30" width="2.00" height="297.60" fill="url(#h11)"/>
<rect x="283.30" y="20.30" width="2.00" height="297.60" fill="url(#h12)"/>
<rect x="284.30" y="20.30" width="2.00" height="297.60" fill="url(#h13)"/>
<rect x="285.30" y="20.30" width="2.00" height="297.60" fill="url(#h14)"/>
<rect x="286.30" y="20.30" width="2.00" height="297.60" fill="url(#h15)"/>
<rect x="287.30" y="20.30" width="2.00" height="297.60" fill="url(#h16)"/>
<rect x="288.30" y="20.30" width="2.00" height="297.60" fill="url(#h17)"/>
<rect x="289.30" y="20.30" width="2.00" height="297.60" fill="url(#h18)"/>
<rect x="290.30" y="20.30" width="2.00" height="297.60" fill="url(#h19)"/>
<rect x="291.30" y="20.30" width="2.00" height="297.60" fill="url(#h20)"/>
<rect x="292.30" y="20.30" width="2.00" height="297.60" fill="url(#h21)"/>
<rect x="293.30" y="20.30" width="2.00" height="297.60" fill="url(#h22)"/>
<rect x="294.30" y="20.30" width="2.00" height="297.60" fill="url(#h23)"/>
<rect x="295.30" y="20.30" width="2.00" height="297.60" fill="url(#h24)"/>
<rect x="296.30" y="20.30" width="2.00" height="297.60" fill="url(#h25)"/>
<rect x="297.30" y="20.30" width="2.00" height="297.60" fill="url(#h26)"/>
<rect x="298.30" y="20.30" width="2.00" height="297.60" fill="url(#h27)"/>
<rect x="299.30" y="20.30" width="2.00" height="297.60" fill="url(#h28)"/>
<rect x="300.30" y="20.30" width="2.00" height="297.60" fill="url(#h29)"/>
<rect x="301.30" y="20.30" width="2.00" height="297.60" fill="url(#h30)"/>
<rect x="302.30" y="20.30" width="2.00" height="297.60" fill="url(#h31)"/>
<rect x="303.30" y="20.30" width="2.00" height="297.60" fill="url(#h32)"/>
<rect x="304.30" y="20.30" width="2.00" height="297.60" fill="url(#h33)"/>
<rect x="305.30" y="20.30" width="2.00" height="297.60" fill="url(#h34)"/>
<rect x="306.30" y="20.30" width="2.00" height="297.60" fill="url(#h35)"/>
<rect x="307.30" y="20.30" width="2.00" height="297.60" fill="url(#h36)"/>
<rect x="308.30" y="20.30" width="2.00" height="297.60" fill="url(#h37)"/>
<rect x="309.30" y="20.30" width="2.00" height="297.60" fill="url(#h38)"/>
<rect x="310.30" y="20.30" width="2.00" height="297.60" fill="url(#h39)"/>
<rect x="311.30" y="20.30" width="2.00" height="297.60" fill="url(#h40)"/>
<rect x="312.30" y="20.30" width="2.00" height="297.60" fill="url(#h41)"/>
<rect x="313.30" y="20.30" width="2.00" height="297.60" fill="url(#h42)"/>
<rect x="314.30" y="20.30" width="2.00" height="297.60" fill="url(#h43)"/>
<rect x="315.30" y="20.30" width="2.00" height="297.60" fill="url(#h44)"/>
<rect x="316.30" y="20.30" width="2.00" height="297.60" fill="url(#h45)"/>
<rect x="317.30" y="20.30" width="2.00" height="297.60" fill="url(#h46)"/>
<rect x="318.30" y="20.30" width="2.00" height="297.60" fill="url(#h47)"/>
<rect x="319.30" y="20.30" width="2.00" height="297.60" fill="url(#h48)"/>
<rect x="320.30" y="20.30" width="2.00" height="297.60" fill="url(#h49)"/>
<rect x="321.30" y="20.30" width="2.00" height="297.60" fill="url(#h50)"/>
<rect x="322.30" y="20.30" width="2.00" height="297.60" fill="url(#h51)"/>
<rect x="323.30" y="20.30" width="2.00" height="297.60" fill="url(#h52)"/>
<rect x="324.30" y="20.30" width="2.00" height="297.60" fill="url(#h53)"/>
<rect x="325.30" y="20.30" width="2.00" height="297.60" fill="url(#h54)"/>
<rect x="326.30" y="20.30" width="2.00" height="297.60" fill="url(#h55)"/>
<rect x="327.30" y="20.30" width="2.00" height="297.60" fill="url(#h56)"/>
<rect x="328.30" y="20.30" width="2.00" height="297.60" fill="url(#h57)"/>
<rect x="329.30" y="20.30" width="2.00" height="297.60" fill="url(#h58)"/>
<rect x="330.30" y="20.30" width="2.00" height="297.60" fill="url(#h59)"/>
<rect x="331.30" y="20.30" width="2.00" height="297.60" fill="url(#h60)"/>
<rect x="332.30" y="20.30" width="2.00" height="297.60" fill="url(#h61)"/>
<rect x="333.30" y="20.30" width="2.00" height="297.60" fill="url(#h62)"/>
<rect x="334.30" y="20.30" width="2.00" height="297.60" fill="url(#h63)"/>
<rect x="335.30" y="20.30" width="2.00" height="297.60" fill="url(#h64)"/>
<rect x="336.30" y="20.30" width="2.00" height="297.60" fill="url(#h65)"/>
<rect x="337.30" y="20.30" width="2.00" height="297.60" fill="url(#h66)"/>
<rect x="338.30" y="20.30" width="2.00" height="297.60" fill="url(#h67)"/>
<rect x="339.30" y="20.30" width="2.00" height="297.60" fill="url(#h68)"/>
<rect x="340.30" y="20.30" width="2.00" height="297.60" fill="url(#h69)"/>
<rect x="341.30" y="20.30" width="2.00" height="297.60" fill="url(#h70)"/>
<rect x="342.30" y="20.30" width="2.00" height="297.60" fill="url(#h71)"/>
<rect x="343.30" y="20.30" width="2.00" height="297.60" fill="url(#h72)"/>
<rect x="344.30" y="20.30" width="2.00" height="297.60" fill="url(#h73)"/>
<rect x="345.30" y="20.30" width="2.00" height="297.60" fill="url(#h74)"/>
<rect x="346.30" y="20.30" width="2.00" height="297.60" fill="url(#h75)"/>
<rect x="347.30" y="20.30" width="2.00" height="297.60" fill="url(#h76)"/>
<rect x="348.30" y="20.30" width="2.00" height="297.60" fill="url(#h77)"/>
<rect x="349.30" y="20.30" width="2.00" height="297.60" fill="url(#h78)"/>
<rect x="350.30" y="20.30" width="2.00" height="297.60" fill="url(#h79)"/>
<rect x="351.30" y="20.30" width="2.00" height="297.60" fill="url(#h80)"/>
<rect x="352.30" y="20.30" width="2.00" height="297.60" fill="url(#h81)"/>
<rect x="353.30" y="20.30" width="2.00" height="297.60" fill="url(#h82)"/>
<rect x="354.30" y="20.30" width="2.00" height="297.60" fill="url(#h83)"/>
<rect x="355.30" y="20.30" width="2.00" height="297.60" fill="url(#h84)"/>
<rect x="356.30" y="20.30" width="2.00" height="297.60" fill="url(#h85)"/>
<rect x="357.30" y="20.30" width="2.00" height="297.60" fill="url(#h86)"/>
<rect x="358.30" y="20.30" width="2.00" height="297.60" fill="url(#h87)"/>
<rect x="359.30" y="20.30" width="2.00" height="297.60" fill="url(#h88)"/>
<rect x="360.30" y="20.30" width="2.00" height="297.60" fill="url(#h89)"/>
<rect x="361.30" y="20.30" width="2.00" height="297.60" fill="url(#h90)"/>
<rect x="362.30" y="20.30" width="2.00" height="297.60" fill="url(#h91)"/>
<rect x="363.30" y="20.30" width="2.00" height="297.60" fill="url(#h92)"/>
<rect x="364.30" y="20.30" width="2.00" height="297.60" fill="url(#h93)"/>
<rect x="365.30" y="20.30" width="2.00" height="297.60" fill="url(#h94)"/>
<rect x="366.30" y="20.30" width="2.00" height="297.60" fill="url(#h95)"/>
<rect x="367.30" y="20.30" width="2.00" height="297.60" fill="url(#h96)"/>
<rect x="368.30" y="20.30" width="2.00" height="297.60" fill="url(#h97)"/>
<rect x="369.30" y="20.30" width="2.00" height="297.60" fill="url(#h98)"/>
<rect x="370.30" y="20.30" width="2.00" height="297.60" fill="url(#h99)"/>
<rect x="371.30" y="20.30" width="2.00" height="297.60" fill="url(#h100)"/>
<rect x="372.30" y="20.30" width="2.00" height="297.60" fill="url(#h101)"/>
<rect x="373.30" y="20.30" width="2.00" height="297.60" fill="url(#h102)"/>
<rect x="374.30" y="20.30" width="2.00" height="297.60" fill="url(#h103)"/>
<rect x="375.30" y="20.30" width="2.00" height="297.60" fill="url(#h104)"/>
<rect x="376.30" y="20.30" width="2.00" height="297.60" fill="url(#h105)"/>
<rect x="377.30" y="20.30" width="2.00" height="297.60" fill="url(#h106)"/>
<rect x="378.30" y="20.30" width="2.00" height="297.60" fill="url(#h107)"/>
<rect x="379.30" y="20.30" width="2.00" height="297.60" fill="url(#h108)"/>
<rect x="380.30" y="20.30" width="2.00" height="297.60" fill="url(#h109)"/>
<rect x="381.30" y="20.30" width="2.00" height="297.60" fill="url(#h110)"/>
<rect x="382.30" y="20.30" width="2.00" height="297.60" fill="url(#h111)"/>
<rect x="383.30" y="20.30" width="2.00" height="297.60" fill="url(#h112)"/>
<rect x="384.30" y="20.30" width="2.00" height="297.60" fill="url(#h113)"/>
<rect x="385.30" y="20.30" width="2.00" height="297.60" fill="url(#h114)"/>
<rect x="386.30" y="20.30" width="2.00" height="297.60" fill="url(#h115)"/>
<rect x="387.30" y="20.30" width="2.00" height="297.60" fill="url(#h116)"/>
<rect x="388.30" y="20.30" width="2.00" height="297.60" fill="url(#h117)"/>
<rect x="389.30" y="20.30" width="2.00" height="297.60" fill="url(#h118)"/>
<rect x="390.30" y="20.30" width="2.00" height="297.60" fill="url(#h119)"/>
<rect x="391.30" y="20.30" width="2.00" height="297.60" fill="url(#h120)"/>
<rect x="392.30" y="20.30" width="2.00" height="297.60" fill="url(#h121)"/>
<rect x="393.30" y="20.30" width="2.00" height="297.60" fill="url(#h122)"/>
<rect x="394.30" y="20.30" width="2.00" height="297.60" fill="url(#h123)"/>
<rect x="395.30" y="20.30" width="2.00" height="297.60" fill="url(#h124)"/>
<rect x="396.30" y="20.30" width="2.00" height="297.60" fill="url(#h125)"/>
<rect x="397.30" y="20.30" width="2.00" height="297.60" fill="url(#h126)"/>
<rect x="398.30" y="20.30" width="2.00" height="297.60" fill="url(#h127)"/>
<rect x="399.30" y="20.30" width="2.00" height="297.60" fill="url(#h128)"/>
<rect x="400.30" y="20.30" width="2.00" height="297.60" fill="url(#h129)"/>
<rect x="401.30" y="20.30" width="2.00" height="297.60" fill="url(#h130)"/>
<rect x="402.30" y="20.30" width="2.00" height="297.60" fill="url(#h131)"/>
<rect x="403.30" y="20.30" width="2.00" height="297.60" fill="url(#h132)"/>
<rect x="404.30" y="20.30" width="2.00" height="297.60" fill="url(#h133)"/>
<rect x="405.30" y="20.30" width="2.00" height="297.60" fill="url(#h134)"/>
<rect x="406.30" y="20.30" width="2.00" height="297.60" fill="url(#h135)"/>
<rect x="407.30" y="20.30" width="2.00" height="297.60" fill="url(#h136)"/>
<rect x="408.30" y="20.30" width="2.00" height="297.60" fill="url(#h137)"/>
<rect x="409.30" y="20.30" width="2.00" height="297.60" fill="url(#h138)"/>
<rect x="410.30" y="20.30" width="2.00" height="297.60" fill="url(#h139)"/>
<rect x="411.30" y="20.30" width="2.00" height="297.60" fill="url(#h140)"/>
<rect x="412.30" y="20.30" width="2.00" height="297.60" fill="url(#h141)"/>
<rect x="413.30" y="20.30" width="2.00" height="297.60" fill="url(#h142)"/>
<rect x="414.30" y="20.30" width="2.00" height="297.60" fill="url(#h143)"/>
<rect x="415.30" y="20.30" width="2.00" height="297.60" fill="url(#h144)"/>
<rect x="416.30" y="20.30" width="2.00" height="297.60" fill="url(#h145)"/>
<rect x="417.30" y="20.30" width="2.00" height="297.60" fill="url(#h146)"/>
<rect x="418.30" y="20.30" width="2.00" height="297.60" fill="url(#h147)"/>
<rect x="419.30" y="20.30" width="2.00" height="297.60" fill="url(#h148)"/>
<rect x="420.30" y="20.30" width="2.00" height="297.60" fill="url(#h149)"/>
<rect x="421.30" y="20.30" width="2.00" height="297.60" fill="url(#h150)"/>
<rect x="422.30" y="20.30" width="2.00" height="297.60" fill="url(#h151)"/>
<rect x="423.30" y="20.30" width="2.00" height="297.60" fill="url(#h152)"/>
<rect x="424.30" y="20.30" width="2.00" height="297.60" fill="url(#h153)"/>
<rect x="425.30" y="20.30" width="2.00" height="297.60" fill="url(#h154)"/>
<rect x="426.30" y="20.30" width="2.00" height="297.60" fill="url(#h155)"/>
<rect x="427.30" y="20.30" width="2.00" height="297.60" fill="url(#h156)"/>
<rect x="428.30" y="20.30" width="2.00" height="297.60" fill="url(#h157)"/>
<rect x="429.30" y="20.30" width="2.00" height="297.60" fill="url(#h158)"/>
<rect x="430.30" y="20.30" width="2.00" height="297.60" fill="url(#h159)"/>
<rect x="431.30" y="20.30" width="2.00" height="297.60" fill="url(#h160)"/>
<rect x="432.30" y="20.30" width="2.00" height="297.60" fill="url(#h161)"/>
<rect x="433.30" y="20.30" width="2.00" height="297.60" fill="url(#h162)"/>
<rect x="434.30" y="20.30" width="2.00" height="297.60" fill="url(#h163)"/>
<rect x="435.30" y="20.30" width="2.00" height="297.60" fill="url(#h164)"/>
<rect x="436.30" y="20.30" width="2.00" height="297.60" fill="url(#h165)"/>
<rect x="437.30" y="20.30" width="2.00" height="297.60" fill="url(#h166)"/>
<rect x="438.30" y="20.30" width="2.00" height="297.60" fill="url(#h167)"/>
<rect x="439.30" y="20.30" width="2.00" height="297.60" fill="url(#h168)"/>
<rect x="440.30" y="20.30" width="2.00" height="297.60" fill="url(#h169)"/>
<rect x="441.30" y="20.30" width="2.00" height="297.60" fill="url(#h170)"/>
<rect x="442.30" y="20.30" width="2.00" height="297.60" fill="url(#h171)"/>
<rect x="443.30" y="20.30" width="2.00" height="297.60" fill="url(#h172)"/>
<rect x="444.30" y="20.30" width="2.00" height="297.60" fill="url(#h173)"/>
<rect x="445.30" y="20.30" width="2.00" height="297.60" fill="url(#h174)"/>
<rect x="446.30" y="20.30" width="2.00" height="297.60" fill="url(#h175)"/>
<rect x="447.30" y="20.30" width="2.00" height="297.60" fill="url(#h176)"/>
<rect x="448.30" y="20.30" width="2.00" height="297.60" fill="url(#h177)"/>
<rect x="449.30" y="20.30" width="2.00" height="297.60" fill="url(#h178)"/>
<rect x="450.30" y="20.30" width="2.00" height="297.60" fill="url(#h179)"/>
<rect x="451.30" y="20.30" width="2.00" height="297.60" fill="url(#h180)"/>
<rect x="452.30" y="20.30" width="2.00" height="297.60" fill="url(#h181)"/>
<rect x="453.30" y="20.30" width="2.00" height="297.60" fill="url(#h182)"/>
<rect x="454.30" y="20.30" width="2.00" height="297.60" fill="url(#h183)"/>
<rect x="455.30" y="20.30" width="2.00" height="297.60" fill="url(#h184)"/>
<rect x="456.30" y="20.30" width="2.00" height="297.60" fill="url(#h185)"/>
<rect x="457.30" y="20.30" width="2.00" height="297.60" fill="url(#h186)"/>
<rect x="458.30" y="20.30" width="2.00" height="297.60" fill="url(#h187)"/>
<rect x="459.30" y="20.30" width="2.00" height="297.60" fill="url(#h188)"/>
<rect x="460.30" y="20.30" width="2.00" height="297.60" fill="url(#h189)"/>
<rect x="461.30" y="20.30" width="2.00" height="297.60" fill="url(#h190)"/>
<rect x="462.30" y="20.30" width="2.00" height="297.60" fill="url(#h191)"/>
<rect x="463.30" y="20.30" width="2.00" height="297.60" fill="url(#h192)"/>
<rect x="464.30" y="20.30" width="2.00" height="297.60" fill="url(#h193)"/>
<rect x="465.30" y="20.30" width="2.00" height="297.60" fill="url(#h194)"/>
<rect x="466.30" y="20.30" width="2.00" height="297.60" fill="url(#h195)"/>
<rect x="467.30" y="20.30" width="2.00" height="297.60" fill="url(#h196)"/>
<rect x="468.30" y="20.30" width="2.00" height="297.60" fill="url(#h197)"/>
<rect x="469.30" y="20.30" width="2.00" height="297.60" fill="url(#h198)"/>
<rect x="470.30" y="20.30" width="2.00" height="297.60" fill="url(#h199)"/>
<rect x="471.30" y="20.30" width="2.00" height="297.60" fill="url(#h200)"/>
<rect x="472.30" y="20.30" width="2.00" height="297.60" fill="url(#h201)"/>
<rect x="473.30" y="20.30" width="2.00" height="297.60" fill="url(#h202)"/>
<rect x="474.30" y="20.30" width="2.00" height="297.60" fill="url(#h203)"/>
<rect x="475.30" y="20.30" width="2.00" height="297.60" fill="url(#h204)"/>
<rect x="476.30" y="20.30" width="2.00" height="297.60" fill="url(#h205)"/>
<rect x="477.30" y="20.30" width="2.00" height="297.60" fill="url(#h206)"/>
<rect x="478.30" y="20.30" width="2.00" height="297.60" fill="url(#h207)"/>
<rect x="479.30" y="20.30" width="2.00" height="297.60" fill="url(#h208)"/>
<rect x="480.30" y="20.30" width="2.00" height="297.60" fill="url(#h209)"/>
<rect x="481.30" y="20.30" width="2.00" height="297.60" fill="url(#h210)"/>
<rect x="482.30" y="20.30" width="2.00" height="297.60" fill="url(#h211)"/>
<rect x="483.30" y="20.30" width="2.00" height="297.60" fill="url(#h212)"/>
<rect x="484.30" y="20.30" width="2.00" height="297.60" fill="url(#h213)"/>
<rect x="485.30" y="20.30" width="2.00" height="297.60" fill="url(#h214)"/>
<rect x="486.30" y="20.30" width="2.00" height="297.60" fill="url(#h215)"/>
<rect x="487.30" y="20.30" width="2.00" height="297.60" fill="url(#h216)"/>
<rect x="488.30" y="20.30" width="2.00" height="297.60" fill="url(#h217)"/>
<rect x="489.30" y="20.30" width="2.00" height="297.60" fill="url(#h218)"/>
<rect x="490.30" y="20.30" width="2.00" height="297.60" fill="url(#h219)"/>
<rect x="491.30" y="20.30" width="2.00" height="297.60" fill="url(#h220)"/>
<rect x="492.30" y="20.30" width="2.00" height="297.60" fill="url(#h221)"/>
<rect x="493.30" y="20.30" width="2.00" height="297.60" fill="url(#h222)"/>
<rect x="494.30" y="20.30" width="2.00" height="297.60" fill="url(#h223)"/>
<rect x="495.30" y="20.30" width="2.00" height="297.60" fill="url(#h224)"/>
<rect x="496.30" y="20.30" width="2.00" height="297.60" fill="url(#h225)"/>
<rect x="497.30" y="20.30" width="2.00" height="297.60" fill="url(#h226)"/>
<rect x="498.30" y="20.30" width="2.00" height="297.60" fill="url(#h227)"/>
<rect x="499.30" y="20.30" width="2.00" height="297.60" fill="url(#h228)"/>
<rect x="500.30" y="20.30" width="2.00" height="297.60" fill="url(#h229)"/>
<rect x="501.30" y="20.30" width="2.00" height="297.60" fill="url(#h230)"/>
<rect x="502.30" y="20.30" width="2.00" height="297.60" fill="url(#h231)"/>
<rect x="503.30" y="20.30" width="2.00" height="297.60" fill="url(#h232)"/>
<rect x="504.30" y="20.30" width="2.00" height="297.60" fill="url(#h233)"/>
<rect x="505.30" y="20.30" width="2.00" height="297.60" fill="url(#h234)"/>
<rect x="506.30" y="20.30" width="2.00" height="297.60" fill="url(#h235)"/>
<rect x="507.30" y="20.30" width="2.00" height="297.60" fill="url(#h236)"/>
<rect x="508.30" y="20.30" width="2.00" height="297.60" fill="url(#h237)"/>
<rect x="509.30" y="20.30" width="2.00" height="297.60" fill="url(#h238)"/>
<rect x="510.30" y="20.30" width="2.00" height="297.60" fill="url(#h239)"/>
<rect x="511.30" y="20.30" width="2.00" height="297.60" fill="url(#h240)"/>
<rect x="512.30" y="20.30" width="2.00" height="297.60" fill="url(#h241)"/>
<rect x="513.30" y="20.30" width="2.00" height="297.60" fill="url(#h242)"/>
<rect x="514.30" y="20.30" width="2.00" height="297.60" fill="url(#h243)"/>
<rect x="515.30" y="20.30" width="2.00" height="297.60" fill="url(#h244)"/>
<rect x="516.30" y="20.30" width="2.00" height="297.60" fill="url(#h245)"/>
<rect x="517.30" y="20.30" width="2.00" height="297.60" fill="url(#h246)"/>
<rect x="518.30" y="20.30" width="2.00" height="297.60" fill="url(#h247)"/>
<rect x="519.30" y="20.30" width="2.00" height="297.60" fill="url(#h248)"/>
<rect x="520.30" y="20.30" width="2.00" height="297.60" fill="url(#h249)"/>
<rect x="521.30" y="20.30" width="2.00" height="297.60" fill="url(#h250)"/>
<rect x="522.30" y="20.30" width="2.00" height="297.60" fill="url(#h251)"/>
<rect x="523.30" y="20.30" width="2.00" height="297.60" fill="url(#h252)"/>
<rect x="524.30" y="20.30" width="2.00" height="297.60" fill="url(#h253)"/>
<rect x="525.30" y="20.30" width="2.00" height="297.60" fill="url(#h254)"/>
<rect x="526.30" y="20.30" width="2.00" height="297.60" fill="url(#h255)"/>
<rect x="527.30" y="20.30" width="2.00" height="297.60" fill="url(#h256)"/>
<rect x="528.30" y="20.30" width="2.00" height="297.60" fill="url(#h257)"/>
<rect x="529.30" y="20.30" width="2.00" height="297.60" fill="url(#h258)"/>
<rect x="530.30" y="20.30" width="2.00" height="297.60" fill="url(#h259)"/>
<rect x="531.30" y="20.30" width="2.00" height="297.60" fill="url(#h260)"/>
<rect x="532.30" y="20.30" width="2.00" height="297.60" fill="url(#h261)"/>
<rect x="533.30" y="20.30" width="2.00" height="297.60" fill="url(#h262)"/>
<rect x="534.30" y="20.30" width="2.00" height="297.60" fill="url(#h263)"/>
<rect x="535.30" y="20.30" width="2.00" height="297.60" fill="url(#h264)"/>
<rect x="536.30" y="20.30" width="2.00" height="297.60" fill="url(#h265)"/>
<rect x="537.30" y="20.30" width="2.00" height="297.60" fill="url(#h266)"/>
<rect x="538.30" y="20.30" width="2.00" height="297.60" fill="url(#h267)"/>
<rect x="539.30" y="20.30" width="2.00" height="297.60" fill="url(#h268)"/>
<rect x="540.30" y="20.30" width="2.00" height="297.60" fill="url(#h269)"/>
<rect x="541.30" y="20.30" width="2.00" height="297.60" fill="url(#h270)"/>
<rect x="542.30" y="20.30" width="2.00" height="297.60" fill="url(#h271)"/>
<rect x="543.30" y="20.30" width="2.00" height="297.60" fill="url(#h272)"/>
<rect x="544.30" y="20.30" width="2.00" height="297.60" fill="url(#h273)"/>
<rect x="545.30" y="20.30" width="2.00" height="297.60" fill="url(#h274)"/>
<rect x="546.30" y="20.30" width="2.00" height="297.60" fill="url(#h275)"/>
<rect x="547.30" y="20.30" width="2.00" height="297.60" fill="url(#h276)"/>
<rect x="548.30" y="20.30" width="2.00" height="297.60" fill="url(#h277)"/>
<rect x="549.30" y="20.30" width="2.00" height="297.60" fill="url(#h278)"/>
<rect x="550.30" y="20.30" width="2.00" height="297.60" fill="url(#h279)"/>
<rect x="551.30" y="20.30" width="2.00" height="297.60" fill="url(#h280)"/>
<rect x="552.30" y="20.30" width="2.00" height="297.60" fill="url(#h281)"/>
<rect x="553.30" y="20.30" width="2.00" height="297.60" fill="url(#h282)"/>
<rect x="554.30" y="20.30" width="2.00" height="297.60" fill="url(#h283)"/>
<rect x="555.30" y="20.30" width="2.00" height="297.60" fill="url(#h284)"/>
<rect x="556.30" y="20.30" width="2.00" height="297.60" fill="url(#h285)"/>
<rect x="557.30" y="20.30" width="2.00" height="297.60" fill="url(#h286)"/>
<rect x="558.30" y="20.30" width="2.00" height="297.60" fill="url(#h287)"/>
<rect x="559.30" y="20.30" width="2.00" height="297.60" fill="url(#h288)"/>
<rect x="560.30" y="20.30" width="2.00" height="297.60" fill="url(#h289)"/>
<rect x="561.30" y="20.30" width="2.00" height="297.60" fill="url(#h290)"/>
<rect x="562.30" y="20.30" width="2.00" height="297.60" fill="url(#h291)"/>
<rect x="563.30" y="20.30" width="2.00" height="297.60" fill="url(#h292)"/>
<rect x="564.30" y="20.30" width="2.00" height="297.60" fill="url(#h293)"/>
<rect x="565.30" y="20.30" width="2.00" height="297.60" fill="url(#h294)"/>
<rect x="566.30" y="20.30" width="2.00" height="297.60" fill="url(#h295)"/>
<rect x="567.30" y="20.30" width="2.00" height="297.60" fill="url(#h296)"/>
<rect x="568.30" y="20.30" width="2.00" height="297.60" fill="url(#h297)"/>
<rect x="569.30" y="20.30" width="1.00" height="297.60" fill="url(#h298)"/>
</g>
<line x1="271.3" y1="20.4" x2="570.3" y2="20.4" stroke="#4a2a22" stroke-opacity="0.45" stroke-width="0.6"/>
<rect x="573.72" y="21.5" width="22.9" height="295.9" fill="url(#cb)" stroke="#303030" stroke-width="0.85"/>
<g stroke="#222" stroke-width="0.9" fill="none">
<line x1="597.0" y1="21.4" x2="603.4" y2="21.4"/>
<line x1="597.0" y1="317.8" x2="603.4" y2="317.8"/>
<line x1="267.1" y1="21.00" x2="272.2" y2="21.00"/>
<line x1="267.1" y1="169.20" x2="272.2" y2="169.20"/>
<line x1="267.1" y1="317.40" x2="272.2" y2="317.40"/>
<line x1="270.0" y1="124.59" x2="272.2" y2="124.59" stroke-width="0.8"/>
<line x1="270.0" y1="98.49" x2="272.2" y2="98.49" stroke-width="0.8"/>
<line x1="270.0" y1="79.97" x2="272.2" y2="79.97" stroke-width="0.8"/>
<line x1="270.0" y1="65.61" x2="272.2" y2="65.61" stroke-width="0.8"/>
<line x1="270.0" y1="53.88" x2="272.2" y2="53.88" stroke-width="0.8"/>
<line x1="270.0" y1="43.96" x2="272.2" y2="43.96" stroke-width="0.8"/>
<line x1="270.0" y1="35.36" x2="272.2" y2="35.36" stroke-width="0.8"/>
<line x1="270.0" y1="27.78" x2="272.2" y2="27.78" stroke-width="0.8"/>
<line x1="270.0" y1="272.79" x2="272.2" y2="272.79" stroke-width="0.8"/>
<line x1="270.0" y1="246.69" x2="272.2" y2="246.69" stroke-width="0.8"/>
<line x1="270.0" y1="228.17" x2="272.2" y2="228.17" stroke-width="0.8"/>
<line x1="270.0" y1="213.81" x2="272.2" y2="213.81" stroke-width="0.8"/>
<line x1="270.0" y1="202.08" x2="272.2" y2="202.08" stroke-width="0.8"/>
<line x1="270.0" y1="192.16" x2="272.2" y2="192.16" stroke-width="0.8"/>
<line x1="270.0" y1="183.56" x2="272.2" y2="183.56" stroke-width="0.8"/>
<line x1="270.0" y1="175.98" x2="272.2" y2="175.98" stroke-width="0.8"/>
<line x1="542.71" y1="317.7" x2="542.71" y2="322.9"/>
<line x1="512.27" y1="317.7" x2="512.27" y2="322.9"/>
<line x1="481.83" y1="317.7" x2="481.83" y2="322.9"/>
<line x1="451.39" y1="317.7" x2="451.39" y2="322.9"/>
<line x1="420.95" y1="317.7" x2="420.95" y2="322.9"/>
<line x1="390.51" y1="317.7" x2="390.51" y2="322.9"/>
<line x1="360.07" y1="317.7" x2="360.07" y2="322.9"/>
<line x1="329.63" y1="317.7" x2="329.63" y2="322.9"/>
<line x1="299.19" y1="317.7" x2="299.19" y2="322.9"/>
</g>
<text x="420.6" y="13.2" font-size="17.3" text-anchor="middle" textLength="265.0" lengthAdjust="spacingAndGlyphs">CO adsorption free energy (eV)</text>
<text x="420.5" y="385.8" font-size="17.0" text-anchor="middle" textLength="122.5" lengthAdjust="spacingAndGlyphs">Reaction order</text>
<text x="213.1" y="169.0" font-size="18.4" text-anchor="middle" textLength="247.5" lengthAdjust="spacingAndGlyphs" transform="rotate(-90 213.1 169.0)">Local CO concentration (mM)</text>
<text x="670.6" y="169.7" font-size="18.8" text-anchor="middle" textLength="263.5" lengthAdjust="spacingAndGlyphs" transform="rotate(90 670.6 169.7)">CO adsorption free energy (eV)</text>
<text x="260.0" y="26.4" font-size="16.1" text-anchor="end" textLength="31.6" lengthAdjust="spacingAndGlyphs">1.00</text>
<text x="260.0" y="174.6" font-size="16.1" text-anchor="end" textLength="31.8" lengthAdjust="spacingAndGlyphs">0.10</text>
<text x="260.0" y="322.8" font-size="16.1" text-anchor="end" textLength="31.8" lengthAdjust="spacingAndGlyphs">0.01</text>
<text x="608.9" y="26.4" font-size="16.1" textLength="42.0" lengthAdjust="spacingAndGlyphs">−0.06</text>
<text x="608.9" y="322.8" font-size="16.1" textLength="40.3" lengthAdjust="spacingAndGlyphs">−0.42</text>
<text x="548.5" y="345.3" font-size="17.7" text-anchor="middle" textLength="28.8" lengthAdjust="spacingAndGlyphs" transform="rotate(-90 548.5 345.3)">−0.1</text>
<text x="518.1" y="345.9" font-size="17.7" text-anchor="middle" textLength="33.5" lengthAdjust="spacingAndGlyphs" transform="rotate(-90 518.1 345.9)">−0.2</text>
<text x="487.6" y="345.9" font-size="17.7" text-anchor="middle" textLength="33.5" lengthAdjust="spacingAndGlyphs" transform="rotate(-90 487.6 345.9)">−0.3</text>
<text x="457.2" y="345.9" font-size="17.7" text-anchor="middle" textLength="33.5" lengthAdjust="spacingAndGlyphs" transform="rotate(-90 457.2 345.9)">−0.4</text>
<text x="426.8" y="345.9" font-size="17.7" text-anchor="middle" textLength="33.5" lengthAdjust="spacingAndGlyphs" transform="rotate(-90 426.8 345.9)">−0.5</text>
<text x="396.3" y="345.9" font-size="17.7" text-anchor="middle" textLength="33.5" lengthAdjust="spacingAndGlyphs" transform="rotate(-90 396.3 345.9)">−0.6</text>
<text x="365.9" y="345.9" font-size="17.7" text-anchor="middle" textLength="33.5" lengthAdjust="spacingAndGlyphs" transform="rotate(-90 365.9 345.9)">−0.7</text>
<text x="335.4" y="345.9" font-size="17.7" text-anchor="middle" textLength="33.5" lengthAdjust="spacingAndGlyphs" transform="rotate(-90 335.4 345.9)">−0.8</text>
<text x="305.0" y="345.9" font-size="17.7" text-anchor="middle" textLength="33.5" lengthAdjust="spacingAndGlyphs" transform="rotate(-90 305.0 345.9)">−0.9</text>
</svg></body></html>
